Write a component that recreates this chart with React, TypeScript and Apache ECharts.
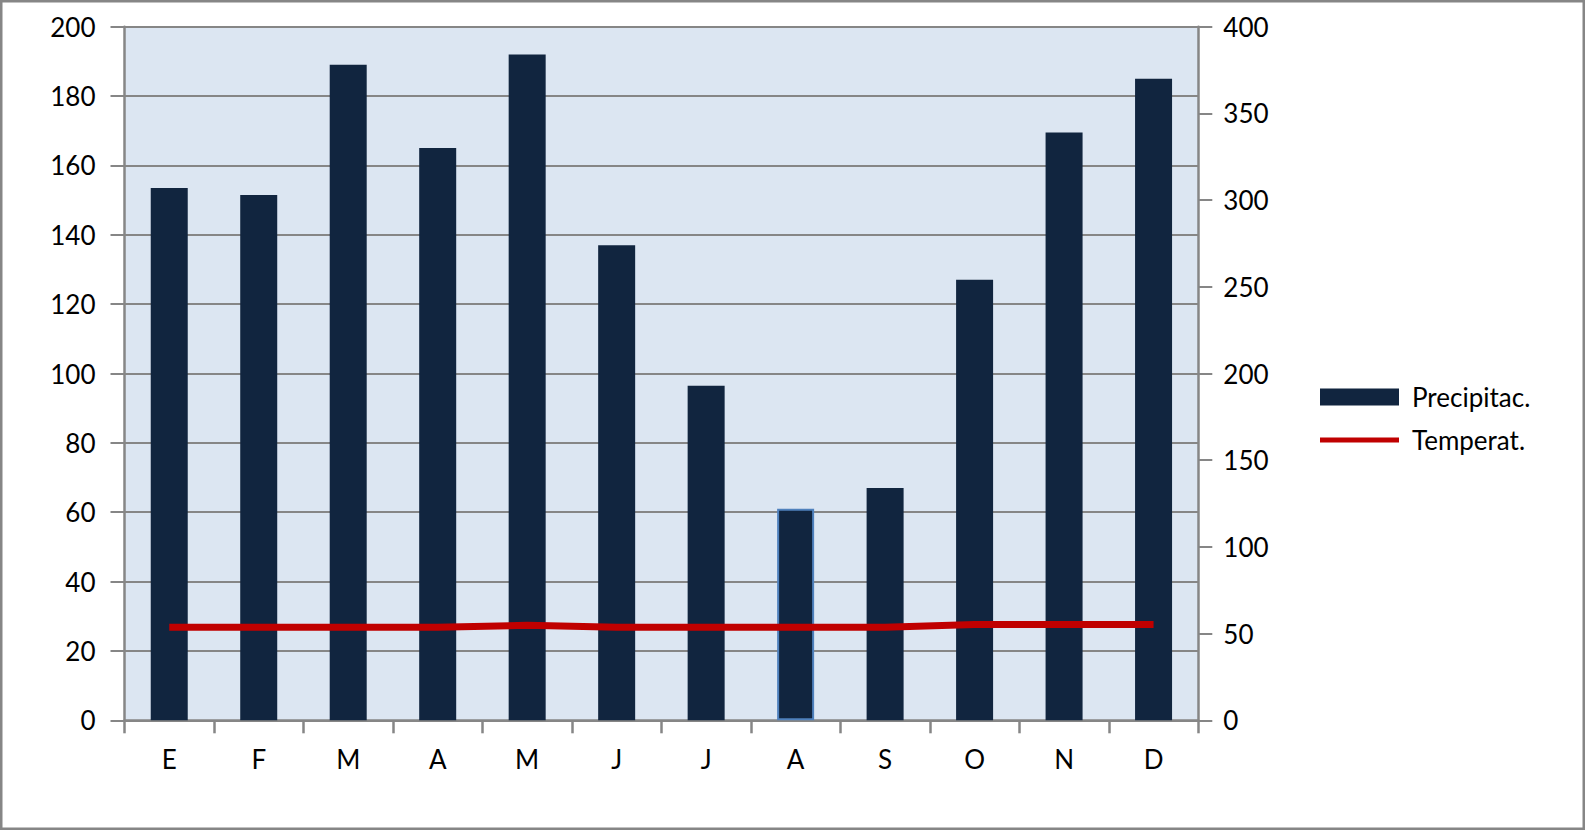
import React, { useEffect, useRef } from "react";
import * as echarts from "echarts";

const months = ["E", "F", "M", "A", "M", "J", "J", "A", "S", "O", "N", "D"];
const precipitation = [307, 303, 378, 330, 384, 274, 193, 122, 134, 254, 339, 370];
const temperature = [26.8, 26.8, 26.8, 26.8, 27.4, 26.8, 26.8, 26.8, 26.8, 27.6, 27.6, 27.6];
const seriesNames = ["Precipitac.", "Temperat."];

const FONT = "Lato, 'Open Sans', sans-serif";
const GRAY = "#868686";

export default function App() {
  const ref = useRef<HTMLDivElement>(null);

  useEffect(() => {
    document.body.style.margin = "0";
    if (!ref.current) return;
    const chart = echarts.init(ref.current, undefined, { renderer: "svg" });
    const axisLabelBase = { color: "#000", fontSize: 26, fontFamily: FONT };
    const legendText = { color: "#000", fontSize: 26, fontFamily: FONT, padding: [0, 0, 0, 8] };
    chart.setOption({
      animation: false,
      backgroundColor: "#fff",
      textStyle: { fontFamily: FONT },
      grid: {
        left: 124.5,
        right: 386.7,
        top: 26.7,
        bottom: 109.7,
        show: true,
        backgroundColor: "#DCE6F2",
        borderWidth: 0,
      },
      legend: [
        {
          orient: "vertical",
          left: 1320,
          top: 384,
          padding: 0,
          itemWidth: 79,
          itemHeight: 17,
          textStyle: legendText,
          data: [{ name: seriesNames[0], icon: "rect" }],
        },
        {
          orient: "vertical",
          left: 1320,
          top: 427,
          padding: 0,
          itemWidth: 79,
          itemHeight: 5,
          textStyle: legendText,
          data: [{ name: seriesNames[1], icon: "rect" }],
        },
      ],
      xAxis: {
        type: "category",
        data: months,
        boundaryGap: true,
        axisLine: { show: true, lineStyle: { color: GRAY, width: 2.5 } },
        axisTick: { show: true, length: 13, interval: 0, lineStyle: { color: GRAY, width: 2.5 } },
        axisLabel: { ...axisLabelBase, margin: 25.5, interval: 0 },
        splitLine: { show: false },
      },
      yAxis: [
        {
          type: "value",
          position: "left",
          min: 0,
          max: 200,
          interval: 20,
          axisLine: { show: true, lineStyle: { color: GRAY, width: 2.5 } },
          axisTick: { show: true, length: 14, lineStyle: { color: GRAY, width: 2 } },
          axisLabel: { ...axisLabelBase, margin: 29 },
          splitLine: { show: true, lineStyle: { color: GRAY, width: 2 } },
        },
        {
          type: "value",
          position: "right",
          min: 0,
          max: 400,
          interval: 50,
          axisLine: { show: true, lineStyle: { color: GRAY, width: 2.5 } },
          axisTick: { show: true, length: 14, lineStyle: { color: GRAY, width: 2 } },
          axisLabel: { ...axisLabelBase, margin: 25 },
          splitLine: { show: false },
        },
      ],
      series: [
        {
          name: seriesNames[0],
          type: "bar",
          yAxisIndex: 1,
          barWidth: 37,
          itemStyle: { color: "#11253F" },
          data: precipitation.map((v, i) =>
            i === 7
              ? { value: v, itemStyle: { borderColor: "#4F81BD", borderWidth: 2 } }
              : v
          ),
          z: 2,
        },
        {
          name: seriesNames[1],
          type: "line",
          yAxisIndex: 0,
          symbol: "none",
          showSymbol: false,
          lineStyle: { color: "#C00000", width: 7, cap: "butt" },
          itemStyle: { color: "#C00000" },
          data: temperature,
          z: 3,
        },
      ],
      graphic: [
        {
          type: "rect",
          shape: { x: 1.25, y: 1.25, width: 1582.5, height: 827.5 },
          style: { fill: "none", stroke: GRAY, lineWidth: 2.5 },
          silent: true,
          z: 100,
        },
      ],
    });
    return () => chart.dispose();
  }, []);

  return <div ref={ref} style={{ width: 1585, height: 830 }} />;
}
